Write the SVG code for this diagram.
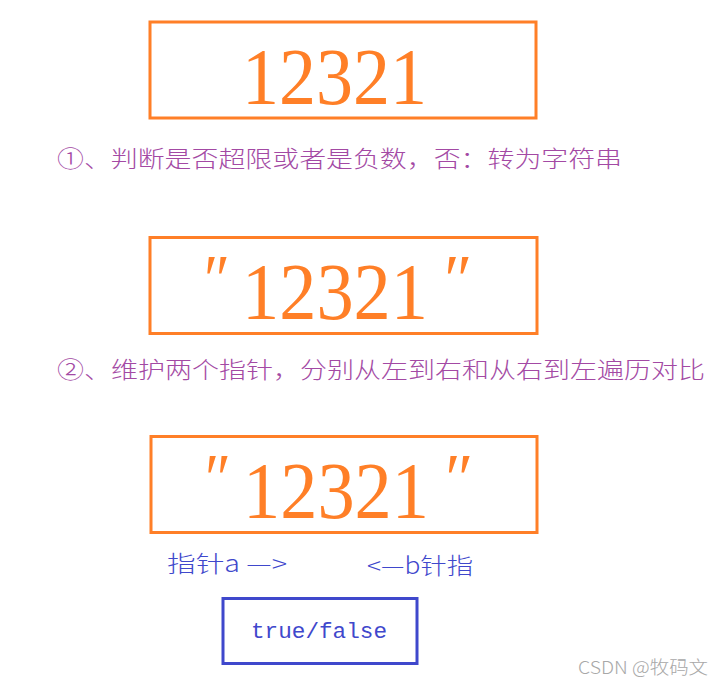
<svg xmlns="http://www.w3.org/2000/svg" width="723" height="686" viewBox="0 0 723 686">
<style>
.box{fill:none;stroke:#FF7F27;stroke-width:3}
.bbox{fill:none;stroke:#3F48CC;stroke-width:3}
.num{font-family:"Liberation Serif","DejaVu Serif",serif;font-size:80px;fill:#FF7F27}
.q{font-family:"Liberation Serif","DejaVu Serif",serif;font-size:70px;font-style:italic;fill:#FF7F27}
.cap{font-family:"Noto Sans CJK SC",sans-serif;font-size:23px;font-weight:300;fill:#A349A4}
.lbl{font-family:"Noto Sans CJK SC",sans-serif;font-size:23px;font-weight:300;fill:#3F48CC}
.mono{font-family:"Liberation Mono",monospace;font-size:22px;fill:#3F48CC}
.wm{font-family:"Noto Sans CJK SC",sans-serif;font-size:18px;font-weight:300;fill:#A8A8A8}
</style>
<rect width="723" height="686" fill="#ffffff"/>
<g id="box1">
<rect class="box" x="150" y="22" width="386" height="96"/>
<text class="num" x="242" y="104" textLength="185" lengthAdjust="spacingAndGlyphs">12321</text>
</g>
<g id="step1">
<text class="cap" x="57" y="167" textLength="565" lengthAdjust="spacingAndGlyphs">①、判断是否超限或者是负数，否：转为字符串</text>
</g>
<g id="box2">
<rect class="box" x="150" y="237.5" width="387" height="96"/>
<text class="q" x="200" y="303" textLength="26" lengthAdjust="spacingAndGlyphs">″</text>
<text class="num" x="242" y="319" textLength="186" lengthAdjust="spacingAndGlyphs">12321</text>
<text class="q" x="440" y="303" textLength="28" lengthAdjust="spacingAndGlyphs">″</text>
</g>
<g id="step2">
<text class="cap" x="57" y="378" textLength="648" lengthAdjust="spacingAndGlyphs">②、维护两个指针，分别从左到右和从右到左遍历对比</text>
</g>
<g id="box3">
<rect class="box" x="151" y="436.5" width="386" height="96"/>
<text class="q" x="201" y="502" textLength="26" lengthAdjust="spacingAndGlyphs">″</text>
<text class="num" x="243" y="518" textLength="186" lengthAdjust="spacingAndGlyphs">12321</text>
<text class="q" x="441" y="502" textLength="28" lengthAdjust="spacingAndGlyphs">″</text>
</g>
<g id="pointerA">
<text class="lbl" x="167" y="572" textLength="120" lengthAdjust="spacingAndGlyphs">指针a —&gt;</text>
</g>
<g id="pointerB">
<text class="lbl" x="367" y="574" textLength="106" lengthAdjust="spacingAndGlyphs">&lt;—b针指</text>
</g>
<g id="result">
<rect class="bbox" x="223" y="598.5" width="194" height="65"/>
<text class="mono" x="251" y="638" textLength="136" lengthAdjust="spacingAndGlyphs">true/false</text>
</g>
<g id="connectors"></g>
<text class="wm" x="578" y="674" textLength="130" lengthAdjust="spacingAndGlyphs">CSDN @牧码文</text>
</svg>
